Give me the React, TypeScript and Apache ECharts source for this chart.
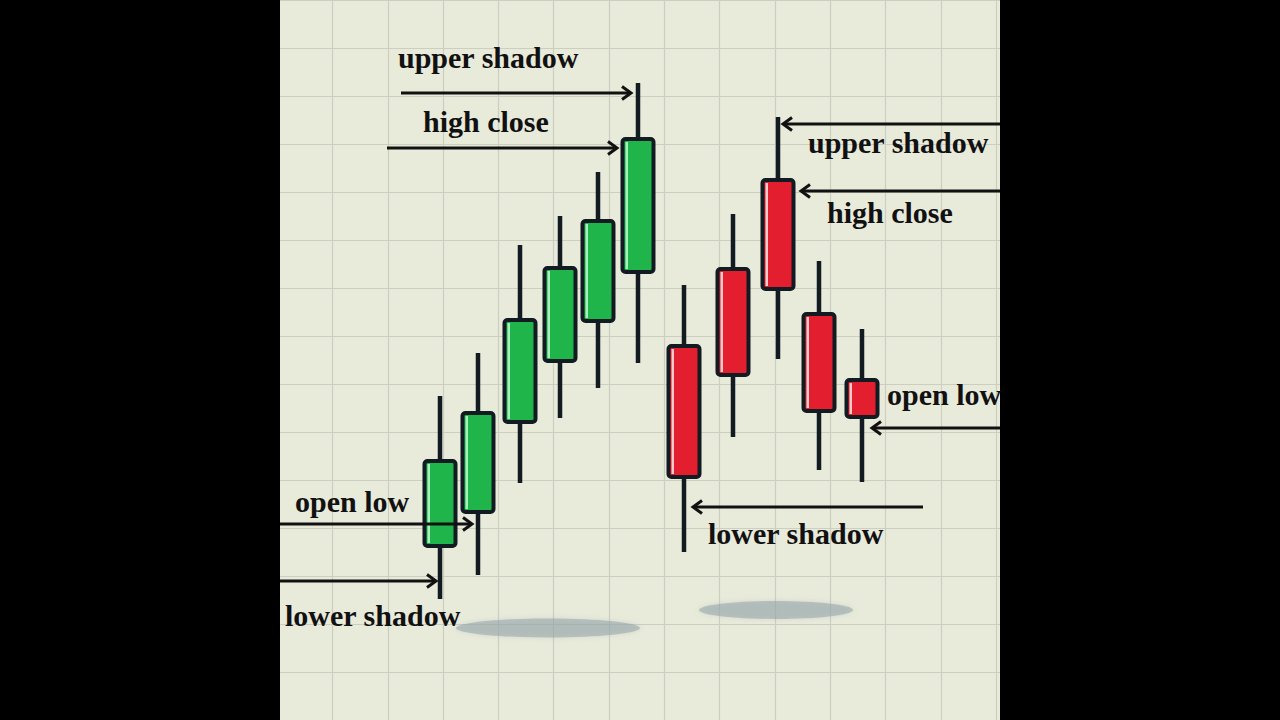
import React, { useEffect, useRef } from "react";
import * as echarts from "echarts";

// Session positions along the time axis (0..720 scale) and OHLC prices
const candleX = [160, 198, 240, 280, 318, 358, 404, 453, 498, 539, 582];
const openP = [174, 208, 298, 359, 399, 448, 374, 451, 540, 406, 340];
const closeP = [259, 307, 400, 452, 499, 581, 243, 345, 431, 309, 303];
const lowP = [121, 145, 237, 302, 332, 357, 168, 283, 361, 250, 238];
const highP = [324, 367, 475, 504, 548, 637, 435, 506, 603, 459, 391];

// Callout texts and their anchor points (chart data space)
const calloutText = [
  "upper shadow",
  "high close",
  "upper shadow",
  "high close",
  "open low",
  "lower shadow",
  "open low",
  "lower shadow",
];
const calloutTextX = [118, 143, 528, 547, 607, 428, 15, 5];
const calloutTextY = [663, 599, 578, 508, 326, 187, 219, 105];

// Arrows: start x, tip x, level (chart data space)
const arrowFromX = [121, 107, 720, 720, 720, 643, 0, 0];
const arrowToX = [351, 337, 503, 521, 592, 413, 192, 156];
const arrowY = [627, 572, 596, 529, 292, 213, 196, 139];

const INK = "#121b22";
const GREEN = "#1fb54b";
const RED = "#e31e2e";
const PAPER = "#e8eada";
const PAPER_LINE = "#cbcec1";

export default function App() {
  const ref = useRef<HTMLDivElement>(null);

  useEffect(() => {
    document.body.style.margin = "0";
    const chart = echarts.init(ref.current as HTMLDivElement, null, { renderer: "svg" });

    const hiddenAxisParts = {
      axisLine: { show: false },
      axisTick: { show: false },
      axisLabel: { show: false },
    };

    chart.setOption({
      animation: false,
      backgroundColor: "#000000",
      grid: [
        { left: 280, top: 0, width: 720, height: 720, show: true, backgroundColor: PAPER, borderWidth: 0 },
        { left: 277.2, top: 0, width: 718.9, height: 720, show: false },
        { left: 280, top: -20.5, width: 720, height: 742.5, show: false },
      ],
      xAxis: [
        { type: "value", gridIndex: 0, min: 0, max: 720, show: false },
        {
          type: "value",
          gridIndex: 1,
          min: 0,
          max: 13,
          interval: 1,
          ...hiddenAxisParts,
          splitLine: { show: true, showMinLine: false, lineStyle: { color: PAPER_LINE, width: 1.2 } },
        },
        { type: "value", gridIndex: 2, min: 0, max: 1, show: false },
      ],
      yAxis: [
        { type: "value", gridIndex: 0, min: 0, max: 720, show: false },
        { type: "value", gridIndex: 1, min: 0, max: 1, show: false },
        {
          type: "value",
          gridIndex: 2,
          min: 0,
          max: 15,
          interval: 1,
          ...hiddenAxisParts,
          splitLine: { show: true, lineStyle: { color: PAPER_LINE, width: 1.2 } },
        },
      ],
      graphic: [
        {
          type: "ellipse",
          z: 1,
          shape: { cx: 548, cy: 628, rx: 92, ry: 9.5 },
          style: { fill: "rgba(150,165,170,0.55)", shadowBlur: 5, shadowColor: "rgba(150,165,170,0.5)" },
        },
        {
          type: "ellipse",
          z: 1,
          shape: { cx: 776, cy: 610, rx: 77, ry: 9 },
          style: { fill: "rgba(150,165,170,0.55)", shadowBlur: 5, shadowColor: "rgba(150,165,170,0.5)" },
        },
      ],
      series: [
        {
          type: "custom",
          name: "candles",
          xAxisIndex: 0,
          yAxisIndex: 0,
          z: 3,
          data: candleX.map((x, i) => [x, openP[i], closeP[i], lowP[i], highP[i]]),
          encode: { x: 0, y: [1, 2, 3, 4] },
          renderItem: (params: any, api: any) => {
            const x = api.value(0);
            const o = api.value(1);
            const c = api.value(2);
            const lo = api.value(3);
            const hi = api.value(4);
            const pH = api.coord([x, hi]);
            const pL = api.coord([x, lo]);
            const pO = api.coord([x, o]);
            const pC = api.coord([x, c]);
            const up = c >= o;
            const top = Math.min(pO[1], pC[1]);
            const h = Math.abs(pO[1] - pC[1]);
            const bw = 31;
            const cx = pO[0];
            return {
              type: "group",
              children: [
                {
                  type: "line",
                  shape: { x1: cx, y1: pH[1], x2: cx, y2: pL[1] },
                  style: { stroke: INK, lineWidth: 4.5 },
                },
                {
                  type: "rect",
                  shape: { x: cx - bw / 2, y: top, width: bw, height: h, r: 3 },
                  style: { fill: up ? GREEN : RED, stroke: INK, lineWidth: 4 },
                },
                {
                  type: "rect",
                  shape: { x: cx - bw / 2 + 3, y: top + 3, width: 2.5, height: h - 6 },
                  style: { fill: up ? "rgba(200,255,215,0.8)" : "rgba(255,220,220,0.9)" },
                },
              ],
            };
          },
        },
        {
          type: "custom",
          name: "arrows",
          xAxisIndex: 0,
          yAxisIndex: 0,
          z: 4,
          data: arrowFromX.map((x, i) => [x, arrowToX[i], arrowY[i]]),
          encode: { x: [0, 1], y: 2 },
          renderItem: (params: any, api: any) => {
            const a = api.coord([api.value(0), api.value(2)]);
            const b = api.coord([api.value(1), api.value(2)]);
            const dir = b[0] > a[0] ? 1 : -1;
            return {
              type: "group",
              children: [
                {
                  type: "line",
                  shape: { x1: a[0], y1: a[1], x2: b[0] - dir * 1.5, y2: b[1] },
                  style: { stroke: "#111111", lineWidth: 2.8 },
                },
                {
                  type: "polyline",
                  shape: {
                    points: [
                      [b[0] - dir * 9, b[1] - 6.5],
                      [b[0], b[1]],
                      [b[0] - dir * 9, b[1] + 6.5],
                    ],
                  },
                  style: { stroke: "#111111", lineWidth: 3, fill: null },
                },
              ],
            };
          },
        },
        {
          type: "custom",
          name: "labels",
          xAxisIndex: 0,
          yAxisIndex: 0,
          z: 5,
          data: calloutTextX.map((x, i) => [x, calloutTextY[i]]),
          encode: { x: 0, y: 1 },
          renderItem: (params: any, api: any) => {
            const p = api.coord([api.value(0), api.value(1)]);
            return {
              type: "text",
              x: p[0],
              y: p[1],
              style: {
                text: calloutText[params.dataIndex],
                fill: "#111111",
                font: 'bold 30px "Liberation Serif", "Times New Roman", serif',
                textAlign: "left",
                textVerticalAlign: "middle",
              },
            };
          },
        },
      ],
    });

    return () => {
      chart.dispose();
    };
  }, []);

  return (
    <div
      ref={ref}
      style={{ position: "fixed", left: 0, top: 0, width: 1280, height: 720, background: "#000" }}
    />
  );
}
